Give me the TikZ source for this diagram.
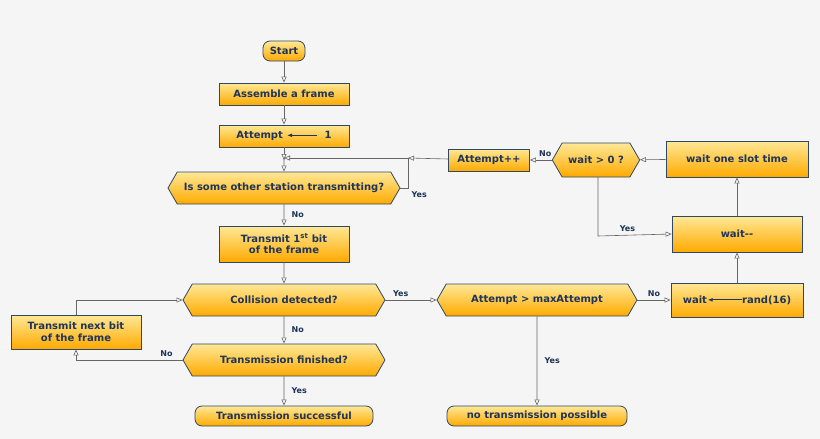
\documentclass[tikz,border=0pt]{standalone}
\usepackage{fontspec}
\setmainfont{DejaVu Sans}
\usetikzlibrary{arrows.meta,shapes.symbols}
\definecolor{edge}{RGB}{47,72,104}
\definecolor{ink}{RGB}{30,52,88}
\definecolor{topc}{RGB}{255,232,150}
\definecolor{botc}{RGB}{255,170,0}
\definecolor{bg}{RGB}{245,245,245}
\newcommand{\leftarr}[1]{\tikz[baseline=-0.6ex]\draw[-{Latex[length=5pt]},line width=1.2pt,ink](0,0)--(-#1,0);}
\tikzset{
  box/.style={draw=edge, line width=0.8pt, top color=topc, bottom color=botc,
    text=ink, font=\fontsize{10}{11.5}\selectfont\bfseries, align=center,
    minimum height=22pt, inner sep=2pt},
  term/.style={box, rounded corners=7pt, minimum height=20pt},
  hex/.style={box, shape=signal, signal to=east and west, signal pointer angle=120,
    minimum height=32pt, inner xsep=6pt},
  link/.style={draw=gray!80!black, line width=0.6pt, -{Triangle[open,length=6pt,width=5pt]}},
  seg/.style={draw=gray!80!black, line width=0.6pt},
  lab/.style={text=ink, font=\fontsize{8}{9}\selectfont\bfseries}
}
\begin{document}
\begin{tikzpicture}[x=1pt,y=-1pt]
  \fill[bg] (0,0) rectangle (820,439);
  \useasboundingbox (0,0) rectangle (820,439);

  % left column
  \node[term, minimum width=42pt] (start) at (284,51) {Start};
  \node[box, minimum width=130pt] (frame) at (284,94) {Assemble a frame};
  \node[box, minimum width=130pt] (init) at (284,136) {Attempt \leftarr{30pt}\ \ 1};
  \node[hex, minimum width=232pt] (busy) at (284,188) {Is some other station transmitting?};
  \node[box, minimum width=130pt, minimum height=36pt] (first) at (284,244)
    {Transmit 1\textsuperscript{st} bit\\of the frame};
  \node[hex, minimum width=202pt] (coll) at (284,300) {Collision detected?};
  \node[hex, minimum width=202pt] (done) at (284,360) {Transmission finished?};
  \node[term, minimum width=178pt] (ok) at (284,416) {Transmission successful};
  \node[box, minimum width=130pt, minimum height=34pt] (next) at (76,332)
    {Transmit next bit\\of the frame};

  % right part
  \node[hex, minimum width=200pt] (max) at (537,300) {Attempt > maxAttempt};
  \node[term, minimum width=180pt] (fail) at (537,416) {no transmission possible};
  \node[box, minimum width=132pt, minimum height=34pt] (rand) at (737,300)
    {wait\leftarr{34pt}rand(16)};
  \node[box, minimum width=130pt, minimum height=36pt] (dec) at (737,234) {wait{-}{-}};
  \node[box, minimum width=142pt, minimum height=36pt] (slot) at (737,159) {wait one slot time};
  \node[hex, minimum width=83pt, minimum height=34pt] (pos) at (596,160) {wait > 0 ?};
  \node[box, minimum width=81pt] (inc) at (489,160) {Attempt++};

  \coordinate (join) at (284,158);
  \coordinate (turn) at (408,158);

  \draw[link] (start) -- (frame);
  \draw[link] (frame) -- (init);
  \draw[link] (init) -- ([yshift=-2pt]join);
  \draw[link] (join) -- (busy);
  \draw[seg] (busy.east) -- (408,188) node[lab, below right] {Yes} -- (turn);
  \draw[link] (turn) -- (join);
  \draw[link] (inc) -- (turn);
  \draw[link] (busy) -- node[lab, right=4pt] {No} (first);
  \draw[link] (first) -- (coll);
  \draw[link] (coll) -- node[lab, right=4pt] {No} (done);
  \draw[link] (done) -- node[lab, right=4pt] {Yes} (ok);
  \draw[link] (done.west) -- node[lab, above, pos=0.15] {No} (76,360) -- (next);
  \draw[link] (next) -- (76,300) -- (coll.west);
  \draw[link] (coll.east) -- node[lab, above, pos=0.3] {Yes} (max.west);
  \draw[link] (max.east) -- node[lab, above] {No} (rand);
  \draw[link] (max) -- node[lab, right=4pt] {Yes} (fail);
  \draw[link] (rand) -- (dec);
  \draw[link] (dec) -- (slot);
  \draw[link] (slot) -- (pos);
  \draw[link] (pos.west) -- node[lab, above, pos=0.3] {No} (inc);
  \draw[link] (598,177) -- (598,236) -- node[lab, above, pos=0.4] {Yes} (dec.west);
\end{tikzpicture}
\end{document}
